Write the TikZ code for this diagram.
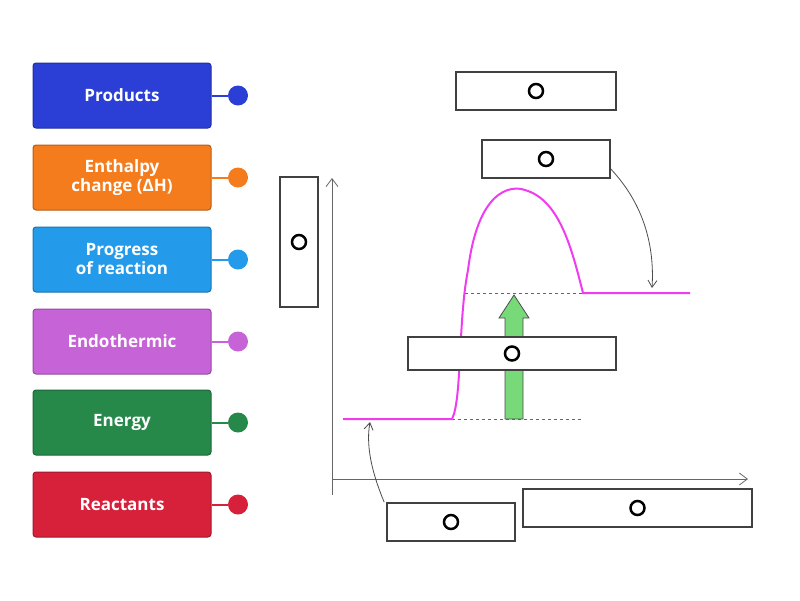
\documentclass[tikz,border=0pt]{standalone}
\usepackage{fontspec}
\setmainfont{Open Sans}
\usetikzlibrary{arrows.meta}
\definecolor{cP}{HTML}{2B3FD6}
\definecolor{cE}{HTML}{F47C1C}
\definecolor{cG}{HTML}{239BEA}
\definecolor{cN}{HTML}{C663D6}
\definecolor{cY}{HTML}{26894A}
\definecolor{cR}{HTML}{D7203A}
\definecolor{mag}{HTML}{F03CF0}
\tikzset{
 btn/.style={draw=#1!75!black, line width=1pt, fill=#1, rounded corners=3pt, minimum width=178pt, minimum height=65pt, text=white, font=\bfseries\fontsize{17}{19}\selectfont, align=center, inner sep=0pt},
 dot/.style={circle, fill=#1, minimum size=20pt, inner sep=0pt},
 box/.style={draw=black!75, line width=1.6pt, fill=white, inner sep=0pt},
 hole/.style={circle, draw=black, line width=2.5pt, minimum size=14pt, inner sep=0pt},
 ax/.style={draw=black!60, line width=0.8pt, -{Straight Barb[length=8pt,width=12pt]}},
 carr/.style={draw=black!70, line width=0.8pt, -{Straight Barb[length=7pt,width=9pt]}}
}
\begin{document}
\begin{tikzpicture}[x=1pt,y=-1pt]
\useasboundingbox (0,0) rectangle (800,600);
\foreach \c/\y/\t/\n in {cP/95.5/Products/a, cE/177.5/{Enthalpy\\change (∆H)}/b, cG/259.5/{Progress\\of reaction}/c, cN/341.5/Endothermic/d, cY/422.5/Energy/e, cR/504.5/Reactants/f}{
 \node[btn=\c] (b\n) at (122,\y) {\t};
 \node[dot=\c] (d\n) at (238,\y) {};
 \draw[\c, line width=2pt] (b\n.east) -- (d\n);
}
% axes
\coordinate (o) at (332,495);
\coordinate (yt) at (332,178);
\coordinate (xo) at (332,479);
\coordinate (xt) at (748,479);
\draw[ax] (o) -- (yt);
\draw[ax] (xo) -- (xt);
% dashed
\draw[black!60, dashed, line width=0.8pt] (465,293) -- (583,293);
\draw[black!60, dashed, line width=0.8pt] (452,419) -- (583,419);
% curve
\draw[mag, line width=2pt] (343,419) -- (452,419) .. controls (462,400) and (458,320) .. (468,270)
  .. controls (478,190) and (510,185) .. (525,190) .. controls (560,200) and (572,250) .. (583,293) -- (690,293);
% green arrow
\draw[fill=green!45!white!85!black, draw=black!70, line width=0.8pt]
 (505,419) -- (505,318) -- (499,318) -- (514,295) -- (529,318) -- (523,318) -- (523,419) -- cycle;
% boxes
\node[box, minimum width=160pt, minimum height=38pt] (t1) at (536,91) {};
\node[hole] at (t1) {};
\node[box, minimum width=128pt, minimum height=38pt] (t2) at (546,159) {};
\node[hole] at (t2) {};
\node[box, minimum width=38pt, minimum height=130pt] (t3) at (299,242) {};
\node[hole] at (t3) {};
\node[box, minimum width=208pt, minimum height=33pt] (t4) at (512,353.5) {};
\node[hole] at (t4) {};
\node[box, minimum width=128pt, minimum height=38pt] (t5) at (451,522) {};
\node[hole] at (t5) {};
\node[box, minimum width=229pt, minimum height=38pt] (t6) at (637.5,508) {};
\node[hole] at (t6) {};
% curved arrows
\coordinate (p1) at (652,288);
\coordinate (p2) at (370,422);
\draw[carr] (t2.east) ++(0,10) .. controls (640,200) and (655,240) .. (p1);
\draw[carr] (t5.north west) ++(-2,0) .. controls (375,480) and (365,450) .. (p2);
\end{tikzpicture}
\end{document}
